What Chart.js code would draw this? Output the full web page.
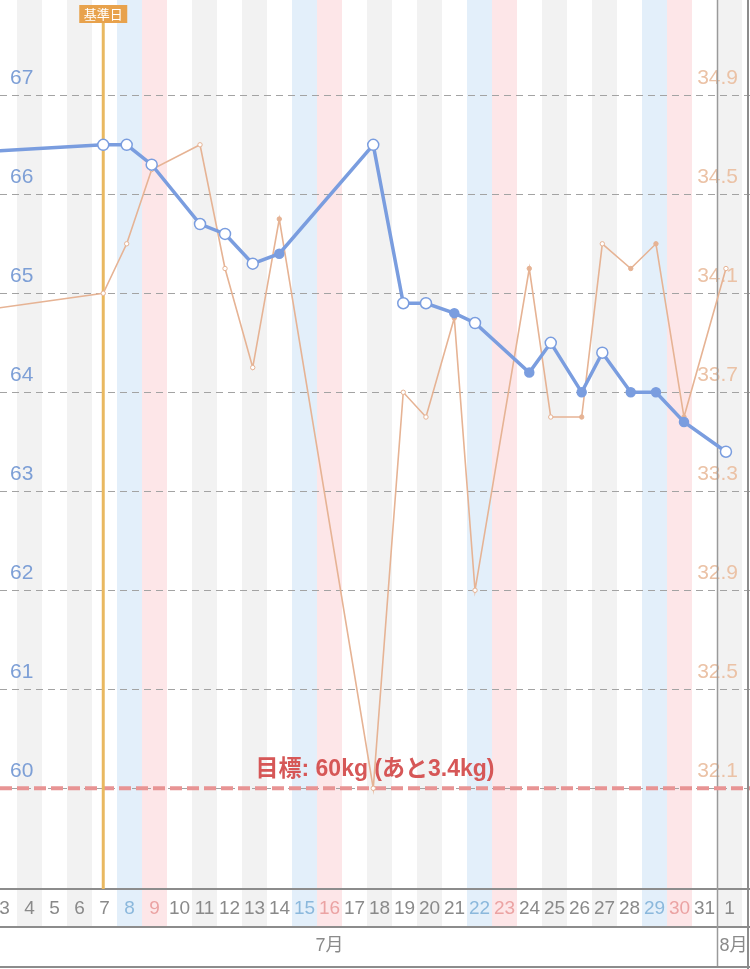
<!DOCTYPE html>
<html>
<head>
<meta charset="utf-8">
<script src="https://cdn.jsdelivr.net/npm/chart.js@4.4.0/dist/chart.umd.min.js"></script>
<style>
  html, body { margin: 0; padding: 0; background: #fff; }
  #wrap { width: 750px; height: 969px; }
</style>
</head>
<body>
<div id="wrap"><canvas id="chart" width="750" height="969"></canvas></div>
<script>
// measurement days (day of July 2023, 0 = Jun 30, 32 = Aug 1) and time of day in hours
const measureDays  = [0, 7, 8, 9, 11, 12, 13, 14, 18, 19, 20, 21, 22, 24, 25, 26, 27, 28, 29, 30, 32];
const measureHours = [9.6, 10.8, 9.3, 9.3, 7.7, 7.7, 10.3, 11.8, 6.0, 10.8, 8.6, 11.8, 7.7, 11.8, 8.4, 14.1, 9.9, 13.2, 13.4, 16.3, 8.6];
const weightKg     = [66.4, 66.5, 66.5, 66.3, 65.7, 65.6, 65.3, 65.4, 66.5, 64.9, 64.9, 64.8, 64.7, 64.2, 64.5, 64.0, 64.4, 64.0, 64.0, 63.7, 63.4];
const bodyFat      = [34.0, 34.1, 34.3, 34.6, 34.7, 34.2, 33.8, 34.4, 32.1, 33.7, 33.6, 34.0, 32.9, 34.2, 33.6, 33.6, 34.3, 34.2, 34.3, 33.6, 34.2];
const filledMark   = [false, false, false, false, false, false, false, true, false, false, false, true, false, true, false, true, false, true, true, true, false];

// axis labels
const dayLabels   = ["3","4","5","6","7","8","9","10","11","12","13","14","15","16","17","18","19","20","21","22","23","24","25","26","27","28","29","30","31","1"];
const monthLabels = ["7月", "8月"];
const weightTicks = [60, 61, 62, 63, 64, 65, 66, 67];
const fatTicks    = [32.1, 32.5, 32.9, 33.3, 33.7, 34.1, 34.5, 34.9];

const targetKg = 60;
const baseIndex = 1; // 基準日 = Jul 7

// visible window (x in days) and value ranges
const xMin = 3.32, xMax = 33.32;
const weightMin = 58.983, weightMax = 67.963;
const fatMin = 31.693, fatMax = 35.285;

const BLUE = "#7a9ddf";
const ORANGE = "#e6b394";

const xValues = measureDays.map((d, i) => d + measureHours[i] / 24);

// kill the extra room chart.js keeps around the axes
const noPadding = (scale) => {
  scale.paddingLeft = 0;
  scale.paddingRight = 0;
  scale.paddingTop = 0;
  scale.paddingBottom = 0;
};

const stripesPlugin = {
  id: "dayStripes",
  beforeDraw(chart) {
    const { ctx } = chart;
    const x = chart.scales.x;
    ctx.save();
    ctx.fillStyle = "#fff";
    ctx.fillRect(0, 0, chart.width, chart.height);
    for (let d = 0; d <= 33; d++) {
      const wd = new Date(2023, 6, d).getDay();
      let color = null;
      if (wd === 6) color = "#e3effa";        // Saturday
      else if (wd === 0) color = "#fde6e8";   // Sunday
      else if (wd === 2 || wd === 4) color = "#f2f2f2";
      if (!color) continue;
      const l = x.getPixelForValue(d), r = x.getPixelForValue(d + 1);
      ctx.fillStyle = color;
      ctx.fillRect(l, 0, r - l, x.bottom);
    }
    ctx.restore();
  }
};

const overlayPlugin = {
  id: "overlay",
  beforeDatasetsDraw(chart) {
    const { ctx, chartArea } = chart;
    const x = chart.scales.x, y = chart.scales.y;

    ctx.save();
    // month boundary
    const mx = Math.round(x.getPixelForValue(32)) + 0.5;
    ctx.strokeStyle = "#9a9a9a";
    ctx.lineWidth = 1.5;
    ctx.beginPath();
    ctx.moveTo(mx, 0);
    ctx.lineTo(mx, chart.height - 2);
    ctx.stroke();

    // target line
    const ty = y.getPixelForValue(targetKg);
    ctx.strokeStyle = "#e89494";
    ctx.lineWidth = 4;
    ctx.setLineDash([12, 5]);
    ctx.beginPath();
    ctx.moveTo(chartArea.left, ty);
    ctx.lineTo(chartArea.right, ty);
    ctx.stroke();
    ctx.setLineDash([]);

    const rest = (weightKg[weightKg.length - 1] - targetKg).toFixed(1);
    ctx.fillStyle = "#d65757";
    ctx.font = "bold 23px 'Liberation Sans', 'Noto Sans CJK JP', sans-serif";
    ctx.textAlign = "center";
    ctx.textBaseline = "middle";
    ctx.fillText("目標: " + targetKg + "kg (あと" + rest + "kg)", (chartArea.left + chartArea.right) / 2, ty - 19);

    // reference day line
    const bx = x.getPixelForValue(xValues[baseIndex]);
    ctx.strokeStyle = "#e9b860";
    ctx.lineWidth = 3;
    ctx.beginPath();
    ctx.moveTo(bx, 20);
    ctx.lineTo(bx, chartArea.bottom);
    ctx.stroke();
    ctx.fillStyle = "#e8a24c";
    ctx.fillRect(bx - 24, 5, 48, 18);
    ctx.fillStyle = "#fff";
    ctx.font = "13px 'Noto Sans CJK JP', sans-serif";
    ctx.fillText("基準日", bx, 14.5);
    ctx.restore();
  },
  afterDraw(chart) {
    const { ctx } = chart;
    ctx.save();
    ctx.strokeStyle = "#8c8c8c";
    ctx.lineWidth = 2;
    ctx.beginPath();
    ctx.moveTo(0, chart.height - 2);
    ctx.lineTo(chart.width, chart.height - 2);
    ctx.moveTo(chart.width - 2, 0);
    ctx.lineTo(chart.width - 2, chart.height);
    ctx.stroke();
    ctx.restore();
  }
};

const weekendColor = (day) => {
  const wd = new Date(2023, 6, day).getDay();
  if (wd === 6) return "#8bb8dc";
  if (wd === 0) return "#eba3a3";
  return "#8a8a8a";
};

new Chart(document.getElementById("chart"), {
  type: "line",
  data: {
    datasets: [
      {
        label: "体重",
        data: xValues.map((v, i) => ({ x: v, y: weightKg[i] })),
        yAxisID: "y",
        borderColor: BLUE,
        borderWidth: 3.5,
        tension: 0,
        pointRadius: (c) => (filledMark[c.dataIndex] ? 4.5 : 5.5),
        pointBackgroundColor: (c) => (filledMark[c.dataIndex] ? BLUE : "#fff"),
        pointBorderColor: BLUE,
        pointBorderWidth: 1.5,
      },
      {
        label: "体脂肪率",
        data: xValues.map((v, i) => ({ x: v, y: bodyFat[i] })),
        yAxisID: "y1",
        borderColor: ORANGE,
        borderWidth: 1.6,
        tension: 0,
        pointRadius: 2.2,
        pointBackgroundColor: (c) => (filledMark[c.dataIndex] ? ORANGE : "#fff"),
        pointBorderColor: ORANGE,
        pointBorderWidth: 1,
      },
    ],
  },
  options: {
    responsive: false,
    animation: false,
    layout: { padding: 0, autoPadding: false },
    plugins: { legend: { display: false }, tooltip: { enabled: false } },
    scales: {
      x: {
        type: "linear",
        position: "bottom",
        weight: 0,
        min: xMin,
        max: xMax,
        grid: { display: false, drawTicks: false },
        border: { display: true, color: "#8c8c8c", width: 2 },
        afterBuildTicks: (scale) => {
          scale.ticks = dayLabels.map((_, i) => ({ value: 3 + i + 0.5 }));
        },
        afterFit: (scale) => {
          scale.height = 38;
          noPadding(scale);
        },
        ticks: {
          autoSkip: false,
          maxRotation: 0,
          padding: 8,
          font: { size: 19, family: "'Liberation Sans', sans-serif" },
          color: (c) => weekendColor(Math.floor(c.tick.value)),
          callback: (value, index) => dayLabels[index],
        },
      },
      x2: {
        type: "linear",
        position: "bottom",
        weight: 1,
        min: xMin,
        max: xMax,
        grid: { display: false, drawTicks: false },
        border: { display: true, color: "#8c8c8c", width: 2 },
        afterBuildTicks: (scale) => {
          scale.ticks = [{ value: 16.5 }, { value: (32 + xMax) / 2 }];
        },
        afterFit: (scale) => {
          scale.height = 42;
          noPadding(scale);
        },
        ticks: {
          autoSkip: false,
          maxRotation: 0,
          padding: 8,
          font: { size: 18, family: "'Liberation Sans', 'Noto Sans CJK JP', sans-serif" },
          color: "#8a8a8a",
          callback: (value, index) => monthLabels[index],
        },
      },
      y: {
        position: "left",
        min: weightMin,
        max: weightMax,
        afterBuildTicks: (scale) => {
          scale.ticks = weightTicks.map((v) => ({ value: v }));
        },
        afterFit: (scale) => { scale.width = 0; noPadding(scale); },
        grid: { color: "#a3a3a3", lineWidth: 1, drawTicks: false },
        border: { display: false, dash: [7, 5] },
        ticks: {
          mirror: true,
          padding: 10,
          labelOffset: -17,
          font: { size: 21, family: "'Liberation Sans', sans-serif" },
          color: "#7d9fd6",
        },
      },
      y1: {
        position: "right",
        min: fatMin,
        max: fatMax,
        afterBuildTicks: (scale) => {
          scale.ticks = fatTicks.map((v) => ({ value: v }));
        },
        afterFit: (scale) => { scale.width = 0; noPadding(scale); },
        grid: { display: false, drawTicks: false },
        border: { display: false },
        ticks: {
          mirror: true,
          padding: -12,
          labelOffset: -17,
          font: { size: 21, family: "'Liberation Sans', sans-serif" },
          color: "#ebc2a6",
          callback: (value) => value.toFixed(1),
        },
      },
    },
  },
  plugins: [stripesPlugin, overlayPlugin],
});
</script>
</body>
</html>
